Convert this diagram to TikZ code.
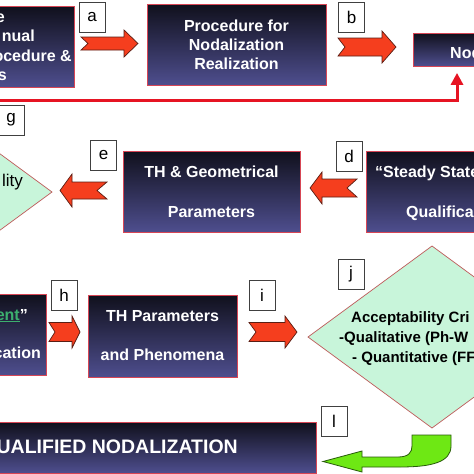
\documentclass[tikz,border=0pt]{standalone}
\usepackage{fontspec}
\setmainfont{Liberation Sans}
\usetikzlibrary{arrows.meta}
\definecolor{boxtop}{RGB}{16,16,28}
\definecolor{boxbot}{RGB}{78,78,142}
\definecolor{boxedge}{RGB}{215,70,85}
\definecolor{arrfill}{RGB}{245,62,30}
\definecolor{arredge}{RGB}{90,30,20}
\definecolor{fbred}{RGB}{230,20,35}
\definecolor{mint}{RGB}{200,245,218}
\definecolor{diaedge}{RGB}{190,90,90}
\definecolor{lime}{RGB}{110,232,20}
\definecolor{limeedge}{RGB}{40,90,10}
\definecolor{transgreen}{RGB}{60,175,110}
\tikzset{
  darkbox/.style={draw=boxedge, line width=0.8pt, top color=boxtop, bottom color=boxbot,
    inner sep=0pt, text=white, font=\bfseries\fontsize{16}{19}\selectfont, align=center},
  boxtext/.style={text=white, font=\bfseries\fontsize{16}{19}\selectfont, inner sep=0pt},
  bigtext/.style={text=white, font=\bfseries\fontsize{19.5}{23}\selectfont, inner sep=0pt},
  diatext/.style={text=black, font=\bfseries\fontsize{15}{18}\selectfont, inner sep=0pt},
  plaintext/.style={text=black, font=\fontsize{17}{20}\selectfont, inner sep=0pt},
  tag/.style={draw=black!75, fill=white, line width=0.8pt, minimum width=26pt,
    minimum height=30pt, inner sep=0pt, font=\fontsize{17}{20}\selectfont},
  blockarrow/.style={fill=arrfill, draw=arredge, line width=0.7pt, line join=miter},
  diastyle/.style={fill=mint, draw=diaedge, line width=0.7pt},
  greenarrow/.style={fill=lime, draw=limeedge, line width=0.8pt},
  feedback/.style={draw=fbred, line width=3pt, -{Triangle[length=12pt,width=12pt]}}
}
% right-pointing block arrow: x0, x1, yc, body half, head half, head length, notch
\newcommand\rblock[7]{%
  \draw[blockarrow] (#1,#3-#4) -- (#2-#6,#3-#4) -- (#2-#6,#3-#5) -- (#2,#3)
    -- (#2-#6,#3+#5) -- (#2-#6,#3+#4) -- (#1,#3+#4) -- (#1+#7,#3) -- cycle;}
% left-pointing block arrow: x0 (tip), x1 (tail), yc, body half, head half, head length, notch
\newcommand\lblock[7]{%
  \draw[blockarrow] (#2,#3-#4) -- (#1+#6,#3-#4) -- (#1+#6,#3-#5) -- (#1,#3)
    -- (#1+#6,#3+#5) -- (#1+#6,#3+#4) -- (#2,#3+#4) -- (#2-#7,#3) -- cycle;}
\begin{document}
\begin{tikzpicture}[x=1pt, y=-1pt]
\useasboundingbox (0,0) rectangle (474,474);
\clip (0,0) rectangle (474,474);
\fill[white] (0,0) rectangle (474,474);

% ---------- row 1 ----------
\node[darkbox, minimum width=154pt, minimum height=81pt] (manual) at (-3,46.5) {};
\node[boxtext, anchor=base east] (m1) at (5,22) {e};
\node[boxtext, anchor=base east] (m2) at (35,41.5) {nual};
\node[boxtext, anchor=base east] (m3) at (72,61) {ocedure \&};
\node[boxtext, anchor=base east] (m4) at (7,80.5) {s};

\node[darkbox, minimum width=179pt, minimum height=81pt] (proc) at (236.5,44.5)
  {Procedure for\\Nodalization\\Realization};

\node[darkbox, minimum width=127pt, minimum height=33pt] (nod) at (476.5,49.5) {};
\node[boxtext, anchor=base west] (nodt) at (450,58) {Nod};

\rblock{81}{138}{43.5}{6.5}{13.5}{14}{7}
\rblock{338}{396}{47}{9}{16}{14}{7}
\node[tag] (ta) at (92,17) {a};
\node[tag] (tb) at (351.5,17) {b};

% feedback line
\coordinate (fbstart) at (-5,100);
\coordinate (fbturn) at (457,100);
\draw[feedback, shorten >=6.5pt] (fbstart) -- (fbturn) -- (fbturn |- nod.south);

% ---------- row 2 ----------
\draw[diastyle] (-196,192) -- (-72,101) -- (52,192) -- (-72,283) -- cycle;
\coordinate (diag) at (-72,192);
\node[plaintext, anchor=base east] (lity) at (23,186) {lity};
\node[tag] (tg) at (11,120) {g};

\node[darkbox, minimum width=177pt, minimum height=81pt] (thg) at (211.5,191.5)
  {TH \& Geometrical\\[21pt]Parameters};
\node[darkbox, minimum width=174pt, minimum height=81pt] (ss) at (453,191.5) {};
\node[boxtext, anchor=base west] (ss1) at (375,177) {“Steady State};
\node[boxtext, anchor=base west] (ss2) at (406,217) {Qualifica};

\lblock{60}{107}{190.5}{8.5}{16.5}{12}{10}
\lblock{310}{357}{188}{9}{16}{12}{10}
\node[tag] (te) at (103.5,155) {e};
\node[tag] (td) at (349,156) {d};

% ---------- row 3 ----------
\node[darkbox, minimum width=146pt, minimum height=81pt] (trans) at (-27,334.5) {};
\node[boxtext, anchor=base east] (tr1) at (28,320)
  {\textcolor{transgreen}{\underline{ent}}”};
\node[boxtext, anchor=base east] (tr2) at (41,358) {cation};

\node[darkbox, minimum width=149pt, minimum height=82pt] (thp) at (162.5,336)
  {TH Parameters\\[20pt]and Phenomena};

\rblock{49}{80}{332}{9.5}{16}{8}{6}
\rblock{249}{297}{332}{9.5}{16}{12}{7}
\node[tag] (th) at (64,295.5) {h};
\node[tag] (ti) at (262,295) {i};

\draw[diastyle] (308,337) -- (432,246) -- (556,337) -- (432,428) -- cycle;
\coordinate (diaj) at (432,337);
\node[diatext, anchor=base west] (j1) at (351,322) {Acceptability Cri};
\node[diatext, anchor=base west] (j2) at (339,342) {-Qualitative (Ph-W};
\node[diatext, anchor=base west] (j3) at (352,362) {- Quantitative (FF};
\node[tag] (tj) at (351,274.5) {j};

% ---------- row 4 ----------
\node[darkbox, minimum width=366pt, minimum height=51pt] (qual) at (133,447.5) {};
\node[bigtext, anchor=base east] (qt) at (238,453) {UALIFIED NODALIZATION};
\node[tag] (tl) at (334,421) {l};

\draw[greenarrow] (412,435) -- (451,435) -- (451,446)
  .. controls (451,462) and (432,467) .. (400,467) -- (362,467) -- (362,472)
  -- (323,461.5) -- (362,451) -- (362,457) -- (398,457)
  .. controls (409,457) and (412,452) .. (412,446) -- cycle;
\end{tikzpicture}
\end{document}
